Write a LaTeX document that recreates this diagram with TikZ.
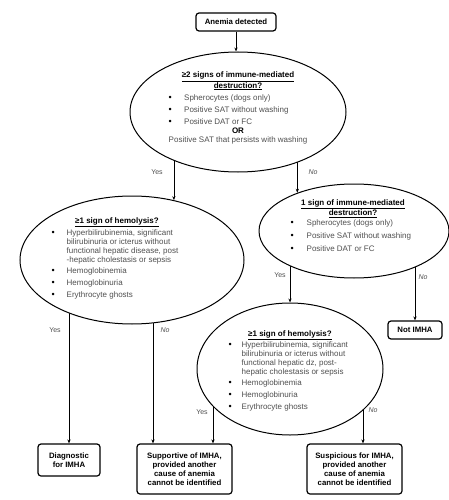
\documentclass[tikz,border=0pt]{standalone}
\usepackage{fontspec}
\setmainfont{Liberation Sans}
\usetikzlibrary{shapes.geometric,arrows.meta,backgrounds}
\definecolor{txtgray}{HTML}{505050}
\newcommand{\bul}{\textcolor{black}{\fontsize{9}{9}\selectfont\textbullet}}
\begin{document}
\begin{tikzpicture}[x=1pt,y=-1pt,
  every node/.style={font=\fontsize{8}{9}\selectfont},
  ell/.style={draw=black, line width=1pt, ellipse, fill=white, inner sep=0pt},
  box/.style={draw=black, line width=1.2pt, rounded corners=3pt, fill=white, align=center,
    font=\fontsize{7.8}{9}\selectfont\bfseries, inner sep=0pt},
  conn/.style={line width=0.8pt, -{Stealth[length=4pt,width=3.2pt]}},
  lbl/.style={text=txtgray, font=\fontsize{7}{8}\selectfont},
  lbli/.style={text=txtgray, font=\fontsize{7}{8}\selectfont\itshape},
  ttl/.style={align=center, font=\fontsize{8}{8.5}\selectfont\bfseries, inner sep=0pt},
  lst/.style={anchor=base west, inner sep=0pt, text=txtgray},
  plain/.style={inner sep=0pt, text=txtgray}
]
\useasboundingbox (0,0) rectangle (449,500);

% boxes and ellipses
\node[box, minimum width=80pt, minimum height=18pt] (start) at (236,22) {Anemia detected};
\node[ell, minimum width=216pt, minimum height=120pt] (e1) at (238,112) {};
\node[ell, minimum width=224pt, minimum height=128pt] (e2) at (132,260) {};
\node[ell, minimum width=190pt, minimum height=94pt] (e3) at (354,231) {};
\node[ell, minimum width=186pt, minimum height=132pt] (e4) at (290,369) {};
\node[box, minimum width=62pt, minimum height=32pt] (diag) at (69,460) {Diagnostic\\for IMHA};
\node[box, minimum width=95pt, minimum height=50pt] (supp) at (184.5,469) {Supportive of IMHA,\\provided another\\cause of anemia\\cannot be identified};
\node[box, minimum width=95pt, minimum height=50pt] (susp) at (354.5,469) {Suspicious for IMHA,\\provided another\\cause of anemia\\cannot be identified};
\node[box, minimum width=54pt, minimum height=18pt] (not) at (415,330) {Not IMHA};

\coordinate (x5) at (153,0);
\coordinate (x6) at (213,0);
\coordinate (x7) at (363,0);

% connectors
\begin{pgfonlayer}{background}
\draw[conn] (start.south) -- (start.south |- e1.north);
\draw[conn] (e1.center -| e2.55.46) -- (e2.55.46);
\draw[conn] (e1.center -| e3.146.6) -- (e3.146.6);
\draw[conn] (e3.center -| e4.north) -- (e4.north);
\draw[conn] (e3.center -| not.north) -- (not.north);
\draw[conn] (e2.center -| diag.north) -- (diag.north);
\draw[conn] (e2.center -| x5) -- (supp.north -| x5);
\draw[conn] (e4.center -| x6) -- (supp.north -| x6);
\draw[conn] (e4.center -| x7) -- (susp.north -| x7);
\end{pgfonlayer}

% branch labels
\node[lbl] (y1) at (157,172) {Yes};
\node[lbli] (n1) at (313,172) {No};
\node[lbl] (y2) at (55,330) {Yes};
\node[lbli] (n2) at (165,330) {No};
\node[lbl] (y3) at (280,275) {Yes};
\node[lbli] (n3) at (423,277) {No};
\node[lbl] (y4) at (202,412) {Yes};
\node[lbli] (n4) at (373,410) {No};

% texts of top ellipse
\node[ttl] (t1) at (238,81) {\underline{≥2 signs of immune-mediated}\\\underline{destruction?}};
\node[lst] (l1) at (168.5,100.5) {\begin{tabular}[t]{@{}p{15.5pt}@{}l@{}}
\bul & Spherocytes (dogs only)\\[3pt]
\bul & Positive SAT without washing\\[3pt]
\bul & Positive DAT or FC
\end{tabular}};
\node[ttl] (or1) at (238,131) {OR};
\node[plain] (last1) at (238,140) {Positive SAT that persists with washing};

% texts of left ellipse
\node[ttl] (t2) at (117,222) {\underline{≥1 sign of hemolysis?}};
\node[lst] (l2) at (51.5,235.5) {\begin{tabular}[t]{@{}p{15pt}@{}l@{}}
\bul & Hyperbilirubinemia, significant\\
 & bilirubinuria or icterus without\\
 & functional hepatic disease, post\\
 & -hepatic cholestasis or sepsis\\[2pt]
\bul & Hemoglobinemia\\[3pt]
\bul & Hemoglobinuria\\[3pt]
\bul & Erythrocyte ghosts
\end{tabular}};

% texts of right ellipse
\node[ttl] (t3) at (353,208.5) {\underline{1 sign of immune-mediated}\\\underline{destruction?}};
\node[lst] (l3) at (290.5,225.5) {\begin{tabular}[t]{@{}p{16pt}@{}l@{}}
\bul & Spherocytes (dogs only)\\[4pt]
\bul & Positive SAT without washing\\[4pt]
\bul & Positive DAT or FC
\end{tabular}};

% texts of middle ellipse
\node[ttl] (t4) at (290,335) {\underline{≥1 sign of hemolysis?}};
\node[lst] (l4) at (228.5,347.5) {\begin{tabular}[t]{@{}p{13pt}@{}l@{}}
\bul & Hyperbilirubinemia, significant\\
 & bilirubinuria or icterus without\\
 & functional hepatic dz, post-\\
 & hepatic cholestasis or sepsis\\[2pt]
\bul & Hemoglobinemia\\[3pt]
\bul & Hemoglobinuria\\[3pt]
\bul & Erythrocyte ghosts
\end{tabular}};
\end{tikzpicture}
\end{document}
